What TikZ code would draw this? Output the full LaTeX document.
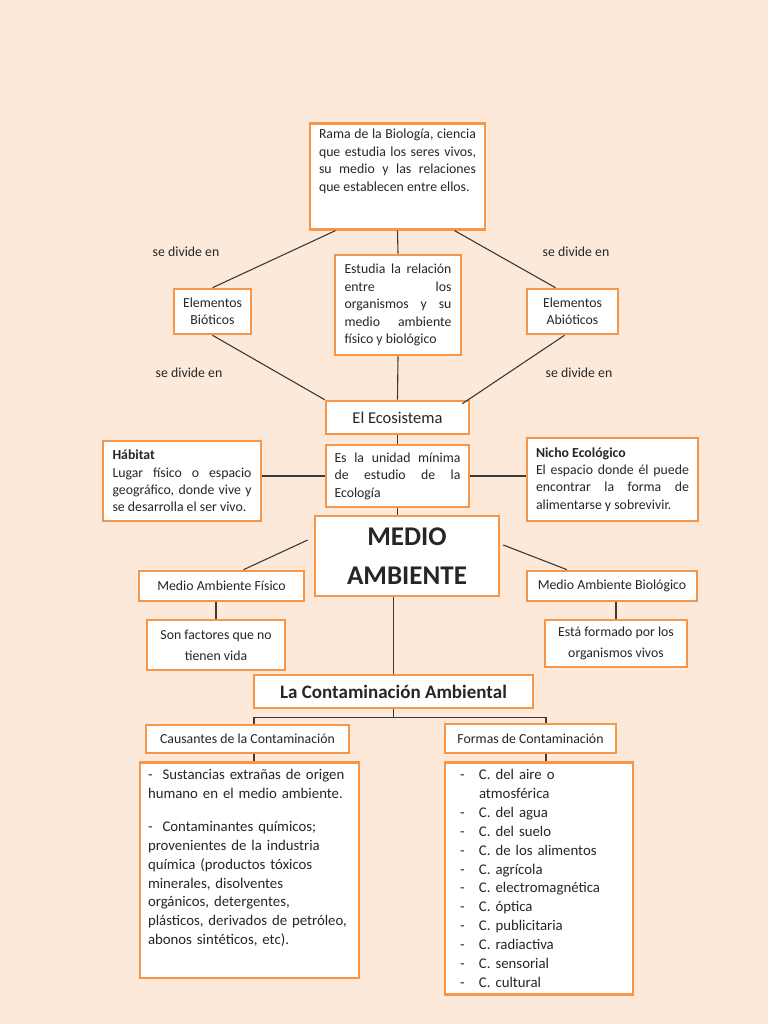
\documentclass[tikz,border=0pt]{standalone}
\usepackage{fontspec}
\setmainfont{Carlito}

\definecolor{bgpeach}{HTML}{FDE9D9}
\definecolor{boxorange}{HTML}{F79646}
\definecolor{ink}{HTML}{262626}
\definecolor{linegray}{HTML}{3A3A3A}

\newcommand{\txt}{\fontsize{13.8}{17.4}\selectfont}
\newcommand{\lst}{\fontsize{14.8}{18.9}\selectfont}

\tikzstyle{block} = [draw=boxorange,line width=2.6pt,fill=white,text=ink,
                     inner sep=0pt,align=center,font=\txt]
\tikzstyle{para}  = [block,align=justify,inner ysep=5pt]
\tikzstyle{conn}  = [draw=linegray,line width=1.1pt]
\tikzstyle{note}  = [text=ink,inner sep=0pt,font=\txt]

\begin{document}
\begin{tikzpicture}[x=1pt,y=-1pt]
  \fill[bgpeach] (0,0) rectangle (768,1024);
  \useasboundingbox (0,0) rectangle (768,1024);

  \node[para,anchor=north,text width=157pt,inner xsep=9pt,inner ysep=6pt] at (397.5,122) (rama)
    {Rama de la Biología, ciencia\linebreak que estudia los seres vivos,\linebreak su medio y las relaciones\linebreak que establecen entre ellos.\par\vspace*{30pt}};
  \node[para,text width=107pt,inner xsep=9.5pt,minimum height=100pt] at (398,305) (estudia)
    {Estudia la relación\linebreak entre los\linebreak organismos y su\linebreak medio ambiente\linebreak físico y biológico};
  \node[block,minimum width=77pt,minimum height=45pt] at (212.5,311.5) (bioticos) {Elementos\\Bióticos};
  \node[block,minimum width=91pt,minimum height=45pt] at (572.5,311.5) (abioticos) {Elementos\\Abióticos};

  \node[note] at (186,252) (div1) {se divide en};
  \node[note] at (576,252) (div2) {se divide en};
  \node[note] at (189,373) (div3) {se divide en};
  \node[note] at (579,373) (div4) {se divide en};

  \node[block,minimum width=143pt,minimum height=33pt,font=\fontsize{16.5}{20}\selectfont] at (397.5,417.5) (ecosistema) {El Ecosistema};
  \node[para,text width=126pt,inner xsep=8.5pt,minimum height=62pt] at (397.5,476) (unidad)
    {Es la unidad mínima\linebreak de estudio de la\linebreak Ecología};
  \node[para,text width=139pt,inner xsep=9.5pt,minimum height=80pt] at (182,481) (habitat)
    {\textbf{Hábitat}\\Lugar físico o espacio\linebreak geográfico, donde vive y\linebreak se desarrolla el ser vivo.};
  \node[para,text width=153pt,inner xsep=9pt,minimum height=83pt] at (612.5,479.5) (nicho)
    {\textbf{Nicho Ecológico}\\El espacio donde él puede\linebreak encontrar la forma de\linebreak alimentarse y sobrevivir.};

  \node[block,minimum width=184pt,minimum height=80pt,font=\fontsize{27}{39}\selectfont\bfseries] at (407,556) (medio) {MEDIO\\AMBIENTE};
  \node[block,minimum width=165pt,minimum height=30pt] at (221.5,586) (fisico) {Medio Ambiente Físico};
  \node[block,minimum width=170pt,minimum height=30pt] at (612,586) (biologico) {Medio Ambiente Biológico};
  \node[block,minimum width=138pt,minimum height=50pt,font=\fontsize{13.8}{21}\selectfont] at (216,645) (factores) {Son factores que no\\tienen vida};
  \node[block,minimum width=142pt,minimum height=47pt,font=\fontsize{13.8}{21}\selectfont] at (616,643.5) (formado) {Está formado por los\\organismos vivos};

  \node[block,minimum width=279pt,minimum height=33pt,font=\fontsize{19}{22}\selectfont\bfseries] at (393.5,691.5) (contam) {La Contaminación Ambiental};
  \node[block,minimum width=203pt,minimum height=28pt] at (247.5,739) (causantes) {Causantes de la Contaminación};
  \node[block,minimum width=171pt,minimum height=29pt] at (530.5,738.5) (formas) {Formas de Contaminación};

  \node[block,anchor=north,align=left,text width=203pt,inner xsep=8pt,inner ysep=7pt,font=\lst] at (249.5,761) (causlist)
    {-\hspace{10pt}Sustancias extrañas de origen\\humano en el medio ambiente.\\[14pt]
     -\hspace{10pt}Contaminantes químicos;\\provenientes de la industria\\química (productos tóxicos\\minerales, disolventes\\orgánicos, detergentes,\\plásticos, derivados de petróleo,\\abonos sintéticos, etc).\par\vspace*{24pt}};
  \node[block,anchor=north,align=left,text width=158pt,inner xsep=15pt,inner ysep=7pt,font=\lst] at (539,761) (formlist)
    {\makebox[19pt][l]{-}C. del aire o\\\hspace*{19pt}atmosférica\\
     \makebox[19pt][l]{-}C. del agua\\\makebox[19pt][l]{-}C. del suelo\\
     \makebox[19pt][l]{-}C. de los alimentos\\\makebox[19pt][l]{-}C. agrícola\\
     \makebox[19pt][l]{-}C. electromagnética\\\makebox[19pt][l]{-}C. óptica\\
     \makebox[19pt][l]{-}C. publicitaria\\\makebox[19pt][l]{-}C. radiactiva\\
     \makebox[19pt][l]{-}C. sensorial\\\makebox[19pt][l]{-}C. cultural};

  \draw[conn] ([xshift=-62pt]rama.south) -- (bioticos.north);
  \draw[conn] ([xshift=57pt]rama.south) -- ([xshift=-17pt]abioticos.north);
  \draw[conn] (rama.south) -- (estudia.north);
  \draw[conn] (estudia.south) -- (ecosistema.north);
  \draw[conn] (bioticos.south) -- (ecosistema.north west);
  \draw[conn] ([xshift=-8pt]abioticos.south) -- ([xshift=-8pt,yshift=-4pt]ecosistema.north east);
  \draw[conn] (ecosistema.south) -- (unidad.north);
  \draw[conn] (unidad.west) -- (unidad.west -| habitat.east);
  \draw[conn] (unidad.east) -- (unidad.east -| nicho.west);
  \draw[conn] (unidad.south) -- (unidad.south |- medio.north);
  \draw[conn] ([xshift=-6pt,yshift=16pt]medio.west) -- ([xshift=22pt]fisico.north);
  \draw[conn] ([xshift=3pt,yshift=11pt]medio.east) -- ([xshift=-45pt]biologico.north);
  \draw[conn] (factores.north |- fisico.south) -- (factores.north);
  \draw[conn] (formado.north |- biologico.south) -- (formado.north);
  \draw[conn] (contam.north |- medio.south) -- (contam.north);
  \draw[conn] (contam.south) -- +(0,8) -| ([xshift=6.5pt]causantes.north);
  \draw[conn] (contam.south) -- +(0,8) -| ([xshift=15.5pt]formas.north);
  \draw[conn] ([xshift=6.5pt]causantes.south) -- ([xshift=6.5pt]causantes.south |- causlist.north);
  \draw[conn] ([xshift=15.5pt]formas.south) -- ([xshift=15.5pt]formas.south |- formlist.north);
\end{tikzpicture}
\end{document}
